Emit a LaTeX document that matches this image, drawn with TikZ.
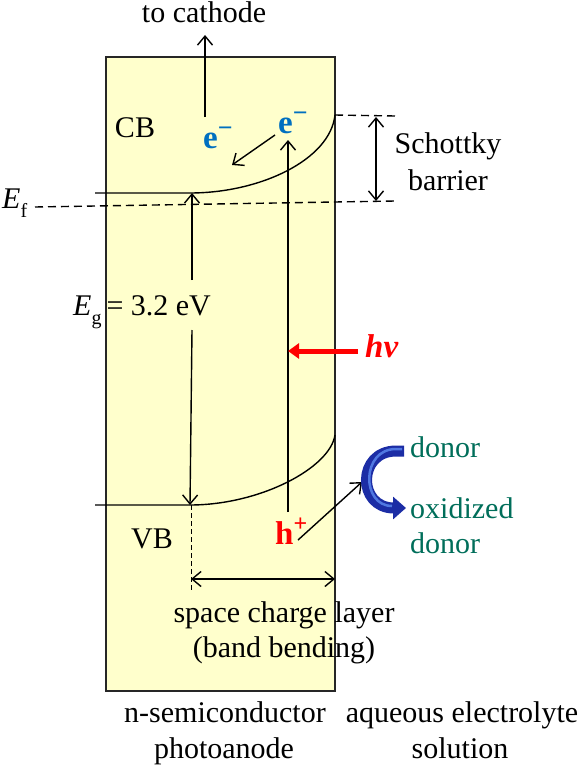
\documentclass[tikz,border=0pt]{standalone}
\usepackage{fontspec}
\setmainfont{Liberation Serif}
\usetikzlibrary{arrows.meta}
\definecolor{padfill}{RGB}{255,255,204}
\definecolor{eblue}{RGB}{0,112,192}
\definecolor{dteal}{RGB}{0,110,90}
\definecolor{arcblue}{RGB}{28,45,165}
\definecolor{arclight}{RGB}{80,120,225}
\begin{document}
\begin{tikzpicture}[x=1pt,y=-1pt,
  txt/.style={font=\fontsize{30}{34}\selectfont, inner sep=0pt},
  btxt/.style={font=\fontsize{33}{36}\selectfont\bfseries, inner sep=0pt},
  ln/.style={line width=1.4pt},
  arr/.style={ln,-{Straight Barb[length=9pt,width=15pt]}},
  darr/.style={ln,{Straight Barb[length=9pt,width=15pt]}-{Straight Barb[length=9pt,width=15pt]}},
  dsh/.style={line width=1.4pt,dash pattern=on 8pt off 5pt}]
\useasboundingbox (0,0) rectangle (579,768);
% semiconductor block
\draw[fill=padfill, line width=1.6pt, draw=black!85] (106,57) rectangle (335,691);
% coordinates
\coordinate (cbl) at (95,193);
\coordinate (cbk) at (190,193);
\coordinate (cbr) at (335,115);
\coordinate (vbl) at (95,505);
\coordinate (vbk) at (190,505);
\coordinate (vbr) at (335,435);
% bands
\draw[ln] (cbl) -- (cbk) .. controls (260,193) and (330,160) .. (cbr);
\draw[ln] (vbl) -- (vbk) .. controls (260,505) and (330,468) .. (vbr);
% Fermi level
\coordinate (efl) at (35,207);
\coordinate (efr) at (395,201);
\draw[dsh] (efl) -- (efr);
\coordinate (sbt) at (395,116);
\draw[dsh] (cbr) -- (sbt);
% labels
\node[txt, anchor=base] (cath) at (204,23) {to cathode};
\node[txt, anchor=base] (cb) at (135,137) {CB};
\node[txt, anchor=base] (vb) at (152,548) {VB};
\node[txt, anchor=base west] (ef) at (2,208) {\textit{E}\raisebox{-0.33em}{\fontsize{20}{21}\selectfont f}};
\node[txt, anchor=base west] (eg) at (73,315) {\textit{E}\raisebox{-0.33em}{\fontsize{20}{21}\selectfont g}\,= 3.2 eV};
\node[btxt, anchor=base west, text=eblue] (e1) at (203,148) {e\raisebox{0.36em}{\fontsize{26}{27}\selectfont −}};
\node[btxt, anchor=base west, text=eblue] (e2) at (278,133) {e\raisebox{0.36em}{\fontsize{26}{27}\selectfont −}};
\node[btxt, anchor=base west, text=red] (hp) at (275,544) {h\raisebox{0.38em}{\fontsize{24}{25}\selectfont +}};
\node[btxt, anchor=base west, text=red] (hv) at (365,357) {\itshape hν};
\node[txt, anchor=base] (sch) at (448,153) {Schottky};
\node[txt, anchor=base] (bar) at (448,190) {barrier};
\node[txt, anchor=base west, text=dteal] (don) at (410,457) {donor};
\node[txt, anchor=base west, text=dteal] (ox) at (410,518) {oxidized};
\node[txt, anchor=base west, text=dteal] (don2) at (410,553) {donor};
\node[txt, anchor=base] (scl) at (284,622) {space charge layer};
\node[txt, anchor=base] (bb) at (284,657) {(band bending)};
\node[txt, anchor=base] (ns) at (225,722) {n-semiconductor};
\node[txt, anchor=base] (pa) at (224,758) {photoanode};
\node[txt, anchor=base] (aq) at (462,722) {aqueous electrolyte};
\node[txt, anchor=base] (sol) at (460,758) {solution};
% arrows
\coordinate (ctop) at (205,35);
\coordinate (cbot) at (205,117);
\draw[arr] (cbot) -- (ctop);
\coordinate (e2s) at (275,135);
\coordinate (e2e) at (232,165);
\draw[arr] (e2s) -- (e2e);
\coordinate (exb) at (288,512);
\coordinate (ext) at (288,140);
\draw[arr] (exb) -- (ext);
\coordinate (egt) at (192,280);
\coordinate (egb) at (192,330);
\draw[arr] (egt) -- (192,193);
\draw[arr] (egb) -- (vbk);
\coordinate (st) at (376,117);
\coordinate (sb) at (376,201);
\draw[darr] (st) -- (sb);
\coordinate (dvt) at (191,505);
\coordinate (dvb) at (191,590);
\draw[line width=1pt, dash pattern=on 5pt off 3pt] (dvt) -- (dvb);
\coordinate (sl) at (191,579);
\coordinate (sr) at (335,579);
\draw[darr] (sl) -- (sr);
\coordinate (hs) at (298,540);
\coordinate (he) at (362,482);
\draw[arr] (hs) -- (he);
% light
\coordinate (lvs) at (358,351);
\coordinate (lve) at (288,351);
\draw[red, line width=5pt, -{Triangle[length=11pt,width=15pt]}] (lvs) -- (lve);
% donor oxidation arrow
\coordinate (ds) at (404,451);
\coordinate (de) at (406,508);
\draw[arcblue, line width=11pt, -{Triangle[length=13pt,width=22pt]}] (ds) -- (396,451) .. controls (357,451) and (357,508) .. (394,508) -- (de);
\draw[arclight, line width=2.5pt] (402,449) -- (396,449) .. controls (361,449) and (361,506) .. (392,506);
\end{tikzpicture}
\end{document}
